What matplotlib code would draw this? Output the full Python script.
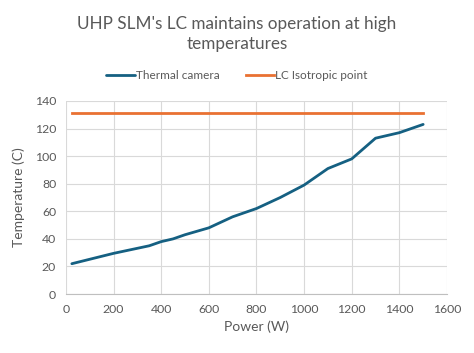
import numpy as np
import matplotlib.pyplot as plt

plt.rcParams['font.family'] = ['Lato', 'DejaVu Sans']

power = [25, 200, 350, 400, 450, 500, 600, 700, 800, 900, 1000, 1100, 1200, 1300, 1400, 1500]
temp = [22, 29.5, 35, 38, 40, 43, 48, 56, 62, 70, 79, 91, 98, 113, 117, 123]
iso_x = [25, 1500]
iso_y = [131, 131]

gris = '#595959'

fig = plt.figure(figsize=(4.74, 3.53), dpi=100)
ax = fig.add_axes([0.139, 0.167, 0.804, 0.547])

ax.plot(power, temp, color='#156082', linewidth=2, label='Thermal camera', solid_capstyle='round')
ax.plot(iso_x, iso_y, color='#E97132', linewidth=2, label='LC Isotropic point')

ax.set_xlim(0, 1600)
ax.set_ylim(0, 140)
ax.set_xticks(np.arange(0, 1601, 200))
ax.set_yticks(np.arange(0, 141, 20))
ax.grid(True, color='#d9d9d9', linewidth=0.8)
ax.set_axisbelow(True)
for s in ['top', 'right', 'left']:
    ax.spines[s].set_visible(False)
ax.spines['bottom'].set_color('#bfbfbf')
ax.tick_params(length=0, labelsize=8.8, colors=gris, pad=7)

ax.set_xlabel('Power (W)', fontsize=10, color=gris, labelpad=4)
ax.set_ylabel('Temperature (C)', fontsize=10, color=gris, labelpad=7)

fig.suptitle("UHP SLM's LC maintains operation at high\ntemperatures", fontsize=12.3, color=gris, y=0.955, linespacing=1.35)
fig.legend(loc='center', bbox_to_anchor=(0.5, 0.787), ncol=2, frameon=False, fontsize=8.5,
           labelcolor=gris, handlelength=2.4, handletextpad=0.1, columnspacing=2.2)

fig.savefig('out.png', dpi=100)
